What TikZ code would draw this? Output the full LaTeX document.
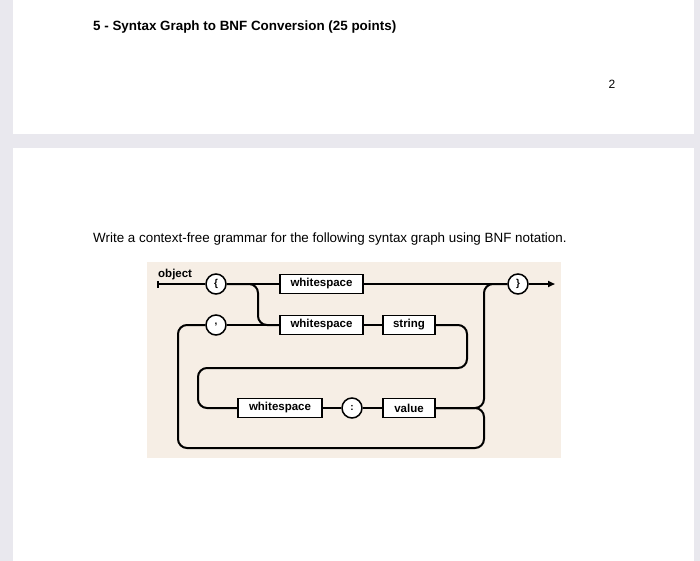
\documentclass[tikz,border=0pt]{standalone}
\usepackage{fontspec}
\setmainfont{Liberation Sans}
\usetikzlibrary{arrows.meta}
\definecolor{pagebg}{HTML}{E9E8EE}
\definecolor{diagbg}{HTML}{F6EEE5}
\tikzset{
  box/.style={draw,line width=1.5pt,fill=white,minimum height=19pt,inner sep=1pt,font=\bfseries\fontsize{11.5}{12}\selectfont},
  term/.style={draw,circle,line width=1.5pt,fill=white,minimum size=20pt,inner sep=0pt,font=\bfseries\fontsize{10}{11}\selectfont},
  rail/.style={line width=2pt,rounded corners=9pt},
}
\begin{document}
\begin{tikzpicture}[x=1pt,y=-1pt]
\useasboundingbox (0,0) rectangle (700,561);
\fill[pagebg] (0,0) rectangle (700,561);
\fill[white] (13,0) rectangle (694,134);
\fill[white] (13,148) rectangle (694,561);
\node[anchor=base west,inner sep=0pt,font=\bfseries\fontsize{13.4}{15}\selectfont] (title) at (93,31) {5 - Syntax Graph to BNF Conversion (25 points)};
\node[anchor=base,inner sep=0pt,font=\fontsize{12}{13}\selectfont] (pg) at (612,89) {2};
\node[anchor=base west,inner sep=0pt,font=\fontsize{13.4}{15}\selectfont] (task) at (93,242) {Write a context-free grammar for the following syntax graph using BNF notation.};
\fill[diagbg] (147,262) rectangle (561,458);
\node[anchor=base west,font=\bfseries\fontsize{11.5}{12}\selectfont,inner sep=0pt] (lab) at (158,277) {object};
\coordinate (start) at (157,284);
\node[term] (lb) at (216,284) {\{};
\node[box,minimum width=83pt] (ws1) at (321.5,284) {whitespace};
\node[term] (rb) at (518,284) {\}};
\coordinate (end) at (555,284);
\node[term] (comma) at (216,325) {,};
\node[box,minimum width=83pt] (ws2) at (321.5,325) {whitespace};
\node[box,minimum width=52pt] (str) at (409,325) {string};
\node[box,minimum width=84pt] (ws3) at (280,408) {whitespace};
\node[term] (colon) at (352,408) {:};
\node[box,minimum width=52pt] (val) at (409,408) {value};
% rails
\draw[line width=2pt,{Bar[width=7pt]}-] (start) -- (lb);
\draw[rail,-{Triangle[length=7pt,width=6pt]}] (rb) -- (end);
\draw[rail] (lb) -- (ws1);
\draw[rail] (lb.east) -- (258,284) -- (258,325) -- (ws2.west);
\draw[rail] (comma) -- (ws2);
\draw[rail] (ws2) -- (str);
\draw[rail] (str.east) -- (467,325) -- (467,368) -- (198,368) -- (198,408) -- (ws3.west);
\draw[rail] (ws3) -- (colon);
\draw[rail] (colon) -- (val);
\draw[rail] (ws1.east) -- (rb.west);
\draw[rail] (val.east) -- (484,408) -- (484,284) -- (rb.west);
\draw[rail] (val.east) -- (484,408) -- (484,448) -- (178,448) -- (178,325) -- (comma.west);
\end{tikzpicture}
\end{document}
